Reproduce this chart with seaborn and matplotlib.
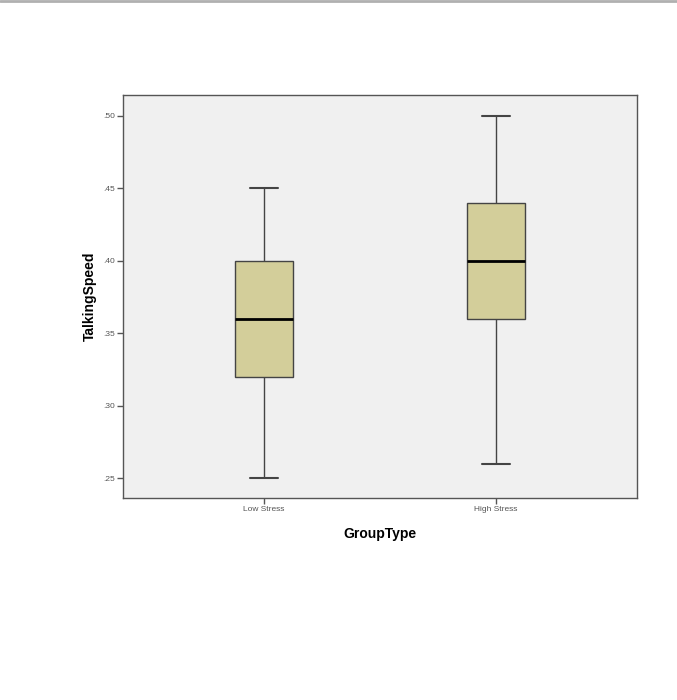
import matplotlib
matplotlib.use('Agg')
import matplotlib.pyplot as plt
import matplotlib.ticker as mticker
import seaborn as sns
import pandas as pd

# five-number summaries (min, Q1, median, Q3, max)
groups = ['Low Stress', 'High Stress']
low_stress = [0.25, 0.32, 0.36, 0.40, 0.45]
high_stress = [0.26, 0.36, 0.40, 0.44, 0.50]
y_ticks = [0.25, 0.30, 0.35, 0.40, 0.45, 0.50]

df = pd.DataFrame({
    'GroupType': [groups[0]] * len(low_stress) + [groups[1]] * len(high_stress),
    'TalkingSpeed': low_stress + high_stress,
})

sns.set_style('white')
plt.rcParams['font.family'] = ['Liberation Sans', 'DejaVu Sans']

fig = plt.figure(figsize=(6.77, 7.0), dpi=100)
ax = fig.add_axes([123 / 677, 1 - 498 / 700, 514 / 677, 403 / 700])
ax.set_facecolor('#F0F0F0')

sns.boxplot(data=df, x='GroupType', y='TalkingSpeed', order=groups, ax=ax,
            color='#D3CE9A', width=0.246, whis=1.5, linewidth=1.0,
            linecolor='#444444', saturation=1, fliersize=0,
            medianprops={'color': 'black', 'linewidth': 2.0},
            capprops={'linewidth': 1.5})

ax.set_xlim(-0.608, 1.608)
ax.set_ylim(0.2362, 0.5145)
ax.set_yticks(y_ticks)
ax.yaxis.set_major_formatter(mticker.FuncFormatter(lambda v, p: f'{v:.2f}'.lstrip('0')))
ax.tick_params(axis='both', direction='out', length=4, width=1.0, color='#555555',
               labelsize=6, labelcolor='#555555', left=True, bottom=True, pad=1.5)
for s in ax.spines.values():
    s.set_color('#555555')
    s.set_linewidth(1.0)

ax.set_xlabel('GroupType', fontsize=10, fontweight='bold', labelpad=10, color='black')
ax.set_ylabel('TalkingSpeed', fontsize=10, fontweight='bold', labelpad=5, color='black')

# thin rule along the top edge of the page
fig.add_artist(plt.Line2D([0, 1], [0.999, 0.999], color='#B0B0B0', linewidth=2))

fig.savefig('out.png', dpi=100, facecolor='white')
